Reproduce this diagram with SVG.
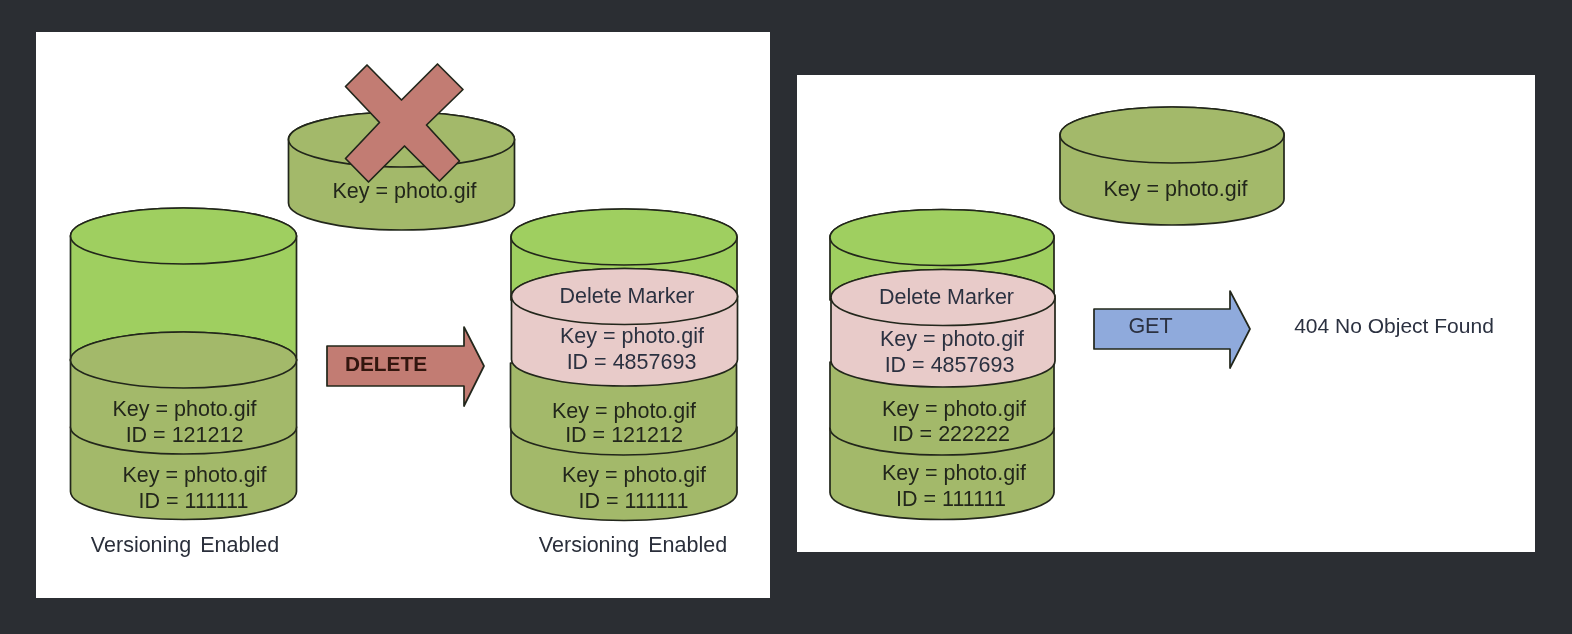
<svg xmlns="http://www.w3.org/2000/svg" width="1572" height="634" viewBox="0 0 1572 634">
<defs>
<filter id="soft" x="-2%" y="-2%" width="104%" height="104%"><feGaussianBlur stdDeviation="0.55"/></filter>
</defs>
<style>
.s{stroke:#22261a;stroke-width:1.7;stroke-linejoin:round}
.lime{fill:#9fcf60}.khaki{fill:#a3b96b}.pink{fill:#e8cbc9}.red{fill:#c27b73}.blue{fill:#8faadc}
text{font-family:"Liberation Sans",Arial,sans-serif;font-size:21.5px;fill:#23271a;text-anchor:middle}
.cap{word-spacing:3px;fill:#2a2f3a}
.dk{fill:#2c3040}
.b{font-weight:bold;font-size:20.8px;fill:#301210}
</style>
<rect width="1572" height="634" fill="#2b2e33"/>
<rect x="36" y="32" width="734" height="566" fill="#fff"/>
<rect x="797" y="75" width="738" height="477" fill="#fff"/>
<g filter="url(#soft)">
<g id="deleted-object">
<path class="s khaki" d="M288.500 139.500A113 27.500 0 0 1 514.500 139.500V203A113 27 0 0 1 288.500 203Z"/>
<ellipse class="s khaki" cx="401.500" cy="139.500" rx="113" ry="27.500"/>
<text x="404.500" y="198">Key = photo.gif</text>
</g>
<g id="cross">
<polygon class="s red" points="367,65 401.500,100 437.500,64 463,89.500 426.500,125 459.500,161 439.500,181 404.500,146 368.500,182 345.500,158.500 379.500,122.500 345.500,86.500"/>
</g>
<g id="bucket-left">
<path class="s lime" d="M70.500 236A113 28 0 0 1 296.500 236V360H70.500Z"/>
<ellipse class="s lime" cx="183.500" cy="236" rx="113" ry="28"/>
</g>
<g id="version-left-111111">
<path class="s khaki" d="M70.500 427H296.500V491.500A113 28 0 0 1 70.500 491.500Z"/>
<text x="194.500" y="482">Key = photo.gif</text>
<text x="193.500" y="508">ID = 111111</text>
</g>
<g id="version-left-121212">
<path class="s khaki" d="M70.500 360A113 28 0 0 1 296.500 360V427A113 27 0 0 1 70.500 427Z"/>
<ellipse class="s khaki" cx="183.500" cy="360" rx="113" ry="28"/>
<text x="184.500" y="416">Key = photo.gif</text>
<text x="184.500" y="442">ID = 121212</text>
</g>
<text id="caption-left" class="cap" x="185" y="552">Versioning Enabled</text>
<g id="bucket-mid">
<path class="s lime" d="M511 237A113 28 0 0 1 737 237V300H511Z"/>
<ellipse class="s lime" cx="624" cy="237" rx="113" ry="28"/>
</g>
<g id="version-mid-111111">
<path class="s khaki" d="M511 427H737V492.500A113 28 0 0 1 511 492.500Z"/>
<text x="634" y="482">Key = photo.gif</text>
<text x="633.500" y="508">ID = 111111</text>
</g>
<g id="version-mid-121212">
<path class="s khaki" d="M510.500 363H736.500V427A113 28 0 0 1 510.500 427Z"/>
<text x="624" y="418">Key = photo.gif</text>
<text x="624" y="442">ID = 121212</text>
</g>
<g id="delete-marker-mid">
<path class="s pink" d="M511.500 296.500A113 28 0 0 1 737.500 296.500V359.500A113 26.500 0 0 1 511.500 359.500Z"/>
<ellipse class="s pink" cx="624.500" cy="296.500" rx="113" ry="28"/>
<text class="dk" x="627" y="303">Delete Marker</text>
<text class="dk" x="632" y="343">Key = photo.gif</text>
<text class="dk" x="631.500" y="369">ID = 4857693</text>
</g>
<text id="caption-mid" class="cap" x="633" y="552">Versioning Enabled</text>
<g id="object-right">
<path class="s khaki" d="M1060 135A112 28 0 0 1 1284 135V199A112 26 0 0 1 1060 199Z"/>
<ellipse class="s khaki" cx="1172" cy="135" rx="112" ry="28"/>
<text x="1175.500" y="196">Key = photo.gif</text>
</g>
<g id="bucket-right">
<path class="s lime" d="M830 237.500A112 28 0 0 1 1054 237.500V300H830Z"/>
<ellipse class="s lime" cx="942" cy="237.500" rx="112" ry="28"/>
</g>
<g id="version-right-111111">
<path class="s khaki" d="M830 428H1054V492.500A112 27 0 0 1 830 492.500Z"/>
<text x="954" y="480">Key = photo.gif</text>
<text x="951" y="506">ID = 111111</text>
</g>
<g id="version-right-222222">
<path class="s khaki" d="M830 362H1054V428A112 27 0 0 1 830 428Z"/>
<text x="954" y="416">Key = photo.gif</text>
<text x="951" y="441">ID = 222222</text>
</g>
<g id="delete-marker-right">
<path class="s pink" d="M831 297.500A112 28 0 0 1 1055 297.500V361A112 26 0 0 1 831 361Z"/>
<ellipse class="s pink" cx="943" cy="297.500" rx="112" ry="28"/>
<text class="dk" x="946.500" y="304">Delete Marker</text>
<text class="dk" x="952" y="346">Key = photo.gif</text>
<text class="dk" x="949.500" y="372">ID = 4857693</text>
</g>
<g id="connectors">
<g id="delete-arrow">
<polygon class="s red" points="327,346 464,346 464,327 484,366 464,406 464,386 327,386"/>
<text class="b" x="386" y="371">DELETE</text>
</g>
<g id="get-arrow">
<polygon class="s blue" points="1094,309 1230,309 1230,291 1250,329 1230,368 1230,349 1094,349"/>
<text class="dk" x="1150.500" y="333">GET</text>
</g>
</g>
<text id="result" class="dk" x="1394" y="333" style="font-size:21px">404 No Object Found</text>
</g>
</svg>
